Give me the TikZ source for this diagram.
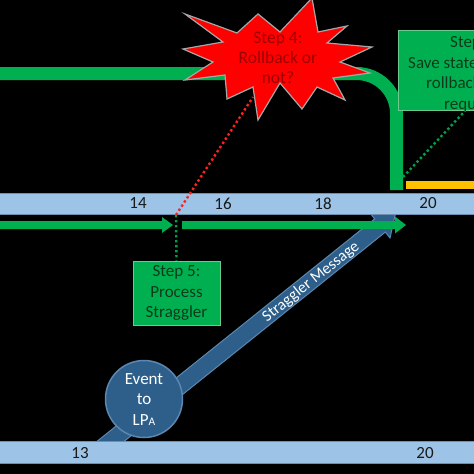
\documentclass[tikz,border=0pt]{standalone}
\usepackage{fontspec}
\setmainfont{Carlito}
\definecolor{pgreen}{HTML}{00B050}
\definecolor{pgreenedge}{HTML}{6CCB8C}
\definecolor{boxtext}{HTML}{0B3B1B}
\definecolor{barblue}{HTML}{9DC3E6}
\definecolor{baredge}{HTML}{6F8FB0}
\definecolor{arrblue}{HTML}{2E5F8A}
\definecolor{arredge}{HTML}{5B87B0}
\definecolor{starred}{HTML}{FF0000}
\definecolor{startext}{HTML}{9B0000}
\definecolor{ygold}{HTML}{FFC000}
\definecolor{dotgreen}{HTML}{00A04A}
\definecolor{dotred}{HTML}{FF2020}
\tikzset{
  timebar/.style={fill=barblue,draw=baredge,line width=0.8pt},
  barlabel/.style={font=\fontsize{17}{20}\selectfont,text=black!90},
  stepbox/.style={fill=pgreen,draw=pgreenedge,line width=1pt},
  boxtxt/.style={font=\fontsize{17}{20.5}\selectfont,text=boxtext,align=center,inner sep=0pt},
  garrow/.style={fill=pgreen,draw=none},
  dotline/.style={line width=2.4pt,dash pattern=on 2.4pt off 2.6pt},
}
\begin{document}
\begin{tikzpicture}[x=1pt,y=-1pt]
\useasboundingbox (0,0) rectangle (474,474);
\fill[black] (0,0) rectangle (474,474);
\begin{scope}
\clip (0,0) rectangle (474,474);
% top green process line
\draw[pgreen,line width=13pt,rounded corners=40pt] (-5,73.5) -- (396.5,73.5) -- (396.5,190);
% star (step 4)
\draw[fill=starred,draw=gray!70,line width=1.2pt] (185,14) -- (237,33) -- (258,14) -- (280,32) -- (312,-2) -- (318,32) -- (347,26) -- (327,43) -- (372,47) -- (340,62) -- (370,73) -- (333,78) -- (345,100) -- (317,87) -- (302,109) -- (280,83) -- (258,120) -- (253,87) -- (227,99) -- (225,75) -- (185,80) -- (213,62) -- (183,49) -- (223,42) -- cycle;
\node[font=\fontsize{17.5}{20}\selectfont,text=startext,align=center,inner sep=0pt] (s4) at (278,58) {Step 4:\\Rollback or\\not?};
% step 6 box (cut by the edge)
\node[stepbox,minimum width=120pt,minimum height=80pt,anchor=north west] (b6) at (398,30) {};
\node[boxtxt,anchor=base west] (b6a) at (450,47) {Step 6:};
\node[boxtxt,anchor=base west] (b6b) at (408,68) {Save state for};
\node[boxtxt,anchor=base west] (b6c) at (426,88.5) {rollback if};
\node[boxtxt,anchor=base west] (b6d) at (444,109) {required};
% yellow bar
\fill[ygold] (406,181) rectangle (480,189);
\coordinate (yb) at (403,177);
\coordinate (b6bot) at (465,111);
\draw[dotgreen,dotline] (yb) -- (b6bot);
% straggler message arrow
\draw[fill=arrblue,draw=arredge,line width=1pt] (88.2,448.4) -- (374.7,218.9) -- (370,213) -- (395.6,213) -- (390,238) -- (385.3,232.1) -- (98.8,461.6) -- cycle;
\node[rotate=38.7,text=white,font=\fontsize{16}{18}\selectfont,inner sep=0pt] (sm) at (311,282) {Straggler Message};
% upper time bar
\node[timebar,minimum width=490pt,minimum height=21pt,inner sep=0pt,anchor=north west] (tb1) at (-8,193) {};
\node[barlabel] (t14) at (138,203.5) {14};
\node[barlabel] (t16) at (223,203.5) {16};
\node[barlabel] (t18) at (323,203.5) {18};
\node[barlabel] (t20) at (428,203.5) {20};
% green arrows under the bar
\fill[garrow] (-5,221) -- (162,221) -- (162,217) -- (173,225) -- (162,233) -- (162,229) -- (-5,229) -- cycle;
\fill[garrow] (182,221) -- (395,221) -- (395,216.5) -- (406,225) -- (395,233.5) -- (395,229) -- (182,229) -- cycle;
% step 5 box
\node[stepbox,minimum width=87pt,minimum height=64pt,inner sep=0pt] (b5) at (176.5,293) {};
\node[boxtxt] (b5t) at (176.5,293) {Step 5:\\Process\\Straggler};
\coordinate (tp) at (176,215);
\coordinate (starbot) at (253,97);
\draw[dotred,dotline] (tp) -- (starbot);
\draw[dotgreen,dotline] (tp) -- (b5.north);
% event circle
\node[circle,fill=arrblue,draw=arredge,line width=1.5pt,minimum size=77pt,inner sep=0pt] (ev) at (144,399) {};
\node[text=white,font=\fontsize{17}{20.5}\selectfont,align=center,inner sep=0pt] (evt) at (144,399.5) {Event\\to\\LP{\fontsize{11.5}{12}\selectfont A}};
% lower time bar
\node[timebar,minimum width=490pt,minimum height=22pt,inner sep=0pt,anchor=north west] (tb2) at (-8,441) {};
\node[barlabel] (l13) at (80,453) {13};
\node[barlabel] (l20) at (425,453) {20};
\end{scope}
\end{tikzpicture}
\end{document}
